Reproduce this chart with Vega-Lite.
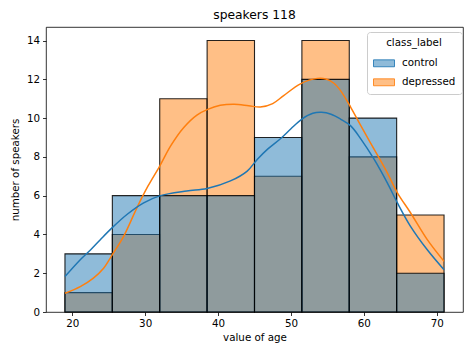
{
  "$schema": "https://vega.github.io/schema/vega-lite/v6.json",
  "width": 417,
  "height": 285,
  "autosize": {"type": "none"},
  "padding": {"left": 46, "top": 27, "right": 11, "bottom": 43},
  "background": "white",
  "title": {"text": "speakers 118", "font": "DejaVu Sans", "fontSize": 12.3, "fontWeight": "normal", "color": "black", "offset": 6},
  "config": {
    "view": {"stroke": "black", "strokeWidth": 0.8},
    "axis": {"labelFont": "DejaVu Sans", "titleFont": "DejaVu Sans", "labelFontSize": 10.3, "titleFontSize": 10.3, "titleFontWeight": "normal", "labelColor": "black", "titleColor": "black", "domain": false, "tickColor": "black", "tickSize": 3.5, "tickWidth": 0.8, "grid": false, "labelPadding": 3}
  },
  "datasets": {
    "bins": [
      {"class_label": "depressed", "bin_start": 19, "bin_end": 25.5, "count": 1},
      {"class_label": "depressed", "bin_start": 25.5, "bin_end": 32, "count": 4},
      {"class_label": "depressed", "bin_start": 32, "bin_end": 38.5, "count": 11},
      {"class_label": "depressed", "bin_start": 38.5, "bin_end": 45, "count": 14},
      {"class_label": "depressed", "bin_start": 45, "bin_end": 51.5, "count": 7},
      {"class_label": "depressed", "bin_start": 51.5, "bin_end": 58, "count": 14},
      {"class_label": "depressed", "bin_start": 58, "bin_end": 64.5, "count": 8},
      {"class_label": "depressed", "bin_start": 64.5, "bin_end": 71, "count": 5},
      {"class_label": "control", "bin_start": 19, "bin_end": 25.5, "count": 3},
      {"class_label": "control", "bin_start": 25.5, "bin_end": 32, "count": 6},
      {"class_label": "control", "bin_start": 32, "bin_end": 38.5, "count": 6},
      {"class_label": "control", "bin_start": 38.5, "bin_end": 45, "count": 6},
      {"class_label": "control", "bin_start": 45, "bin_end": 51.5, "count": 9},
      {"class_label": "control", "bin_start": 51.5, "bin_end": 58, "count": 12},
      {"class_label": "control", "bin_start": 58, "bin_end": 64.5, "count": 10},
      {"class_label": "control", "bin_start": 64.5, "bin_end": 71, "count": 2}
    ],
    "kde": [
      {"class_label": "depressed", "age": 19, "density": 0.97},
      {"class_label": "depressed", "age": 21.1, "density": 1.31},
      {"class_label": "depressed", "age": 22.9, "density": 1.75},
      {"class_label": "depressed", "age": 24.3, "density": 2.26},
      {"class_label": "depressed", "age": 25.5, "density": 2.96},
      {"class_label": "depressed", "age": 27.05, "density": 3.9},
      {"class_label": "depressed", "age": 28.9, "density": 5.4},
      {"class_label": "depressed", "age": 30.4, "density": 6.5},
      {"class_label": "depressed", "age": 32.0, "density": 7.53},
      {"class_label": "depressed", "age": 33.5, "density": 8.57},
      {"class_label": "depressed", "age": 35.3, "density": 9.52},
      {"class_label": "depressed", "age": 37.1, "density": 10.16},
      {"class_label": "depressed", "age": 38.5, "density": 10.44},
      {"class_label": "depressed", "age": 40.3, "density": 10.66},
      {"class_label": "depressed", "age": 42.2, "density": 10.72},
      {"class_label": "depressed", "age": 44.2, "density": 10.64},
      {"class_label": "depressed", "age": 45.8, "density": 10.57},
      {"class_label": "depressed", "age": 47.5, "density": 10.75},
      {"class_label": "depressed", "age": 49, "density": 11.16},
      {"class_label": "depressed", "age": 51.3, "density": 11.77},
      {"class_label": "depressed", "age": 53.6, "density": 12.05},
      {"class_label": "depressed", "age": 54.8, "density": 12.02},
      {"class_label": "depressed", "age": 55.9, "density": 11.8},
      {"class_label": "depressed", "age": 56.8, "density": 11.42},
      {"class_label": "depressed", "age": 58.2, "density": 10.56},
      {"class_label": "depressed", "age": 59.6, "density": 9.6},
      {"class_label": "depressed", "age": 61.4, "density": 8.4},
      {"class_label": "depressed", "age": 63.2, "density": 7.19},
      {"class_label": "depressed", "age": 64.6, "density": 6.15},
      {"class_label": "depressed", "age": 66.4, "density": 5.12},
      {"class_label": "depressed", "age": 68.7, "density": 3.73},
      {"class_label": "depressed", "age": 71, "density": 2.61},
      {"class_label": "control", "age": 19, "density": 1.83},
      {"class_label": "control", "age": 21.1, "density": 2.7},
      {"class_label": "control", "age": 22.5, "density": 3.2},
      {"class_label": "control", "age": 23.85, "density": 3.73},
      {"class_label": "control", "age": 25.45, "density": 4.34},
      {"class_label": "control", "age": 27.5, "density": 5.03},
      {"class_label": "control", "age": 29.8, "density": 5.63},
      {"class_label": "control", "age": 32.0, "density": 5.99},
      {"class_label": "control", "age": 35.7, "density": 6.24},
      {"class_label": "control", "age": 38.5, "density": 6.37},
      {"class_label": "control", "age": 41.7, "density": 6.76},
      {"class_label": "control", "age": 44.0, "density": 7.27},
      {"class_label": "control", "age": 45.4, "density": 7.88},
      {"class_label": "control", "age": 46.8, "density": 8.4},
      {"class_label": "control", "age": 48.6, "density": 8.95},
      {"class_label": "control", "age": 50, "density": 9.45},
      {"class_label": "control", "age": 51.5, "density": 9.95},
      {"class_label": "control", "age": 53, "density": 10.25},
      {"class_label": "control", "age": 54.2, "density": 10.3},
      {"class_label": "control", "age": 55.5, "density": 10.2},
      {"class_label": "control", "age": 56.8, "density": 9.95},
      {"class_label": "control", "age": 58.2, "density": 9.6},
      {"class_label": "control", "age": 59.6, "density": 8.92},
      {"class_label": "control", "age": 61.4, "density": 7.88},
      {"class_label": "control", "age": 63.2, "density": 6.67},
      {"class_label": "control", "age": 64.6, "density": 5.63},
      {"class_label": "control", "age": 66.4, "density": 4.42},
      {"class_label": "control", "age": 68.7, "density": 3.21},
      {"class_label": "control", "age": 71, "density": 2.18}
    ]
  },
  "layer": [
    {
      "data": {"name": "bins"},
      "mark": {"type": "rect", "stroke": "black", "strokeWidth": 1.1, "strokeOpacity": 0.85},
      "encoding": {
        "x": {"field": "bin_start", "type": "quantitative", "scale": {"domain": [16.4, 73.6], "nice": false, "zero": false},
              "axis": {"title": "value of age", "values": [20, 30, 40, 50, 60, 70], "titlePadding": 4}},
        "x2": {"field": "bin_end"},
        "y": {"field": "count", "type": "quantitative", "scale": {"domain": [0, 14.7], "nice": false},
              "axis": {"title": "number of speakers", "values": [0, 2, 4, 6, 8, 10, 12, 14], "titlePadding": 6}},
        "y2": {"datum": 0},
        "fill": {"field": "class_label", "type": "nominal",
                  "scale": {"domain": ["control", "depressed"], "range": ["rgba(31,119,180,0.5)", "rgba(255,127,14,0.5)"]},
                  "legend": {"title": "class_label", "orient": "none", "legendX": 321, "legendY": 5,
                             "titleFont": "DejaVu Sans", "titleFontSize": 10.3, "titleFontWeight": "normal", "titleColor": "black",
                             "titleAnchor": "middle", "titleAlign": "center", "titlePadding": 4,
                             "labelFont": "DejaVu Sans", "labelFontSize": 10.3, "labelColor": "black", "labelOffset": 7,
                             "symbolType": "M-1,-0.33L1,-0.33L1,0.33L-1,0.33Z", "symbolSize": 441, "symbolStrokeColor": "black", "symbolStrokeWidth": 1, "symbolOpacity": 1,
                             "rowPadding": 2, "padding": 6, "fillColor": "white", "strokeColor": "#cccccc", "cornerRadius": 3,
                             "encode": {"symbols": {"update": {"stroke": {"value": "black"}, "strokeOpacity": {"value": 0.85}}}}}}
      }
    },
    {
      "data": {"name": "kde"},
      "mark": {"type": "line", "strokeWidth": 1.5, "interpolate": "catmull-rom"},
      "encoding": {
        "x": {"field": "age", "type": "quantitative"},
        "y": {"field": "density", "type": "quantitative"},
        "color": {"field": "class_label", "type": "nominal", "scale": {"domain": ["control", "depressed"], "range": ["#1f77b4", "#ff7f0e"]}, "legend": null},
        "order": {"field": "age", "type": "quantitative"}
      }
    }
  ]
}
